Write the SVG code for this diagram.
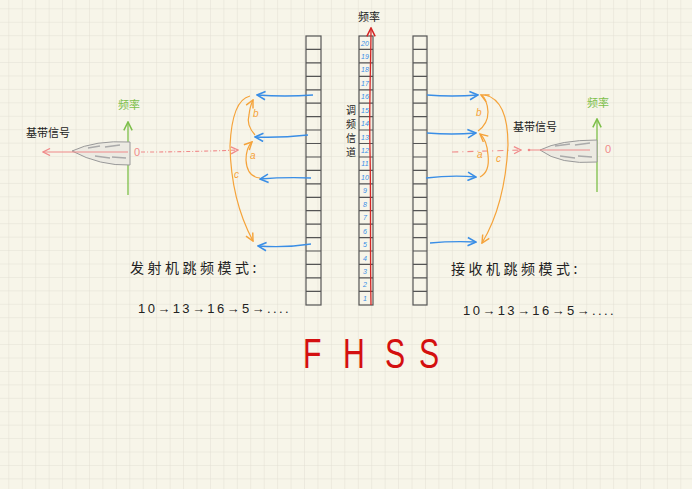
<svg xmlns="http://www.w3.org/2000/svg" width="692" height="489" viewBox="0 0 692 489">
<defs>
<pattern id="grid" x="-4.14" y="-4.13" width="13.44" height="13.43" patternUnits="userSpaceOnUse">
<path d="M13.44 0V13.43M0 13.43H13.44" fill="none" stroke="#e2dfd3" stroke-width="1"/>
</pattern>
<marker id="ab" viewBox="0 0 10 10" refX="9" refY="5" markerWidth="8" markerHeight="8" orient="auto"><path d="M1 1L9 5L1 9" fill="none" stroke="#3a8ee6" stroke-width="1.5"/></marker>
<marker id="ao" viewBox="0 0 10 10" refX="9" refY="5" markerWidth="8" markerHeight="8" orient="auto"><path d="M1 1L9 5L1 9" fill="none" stroke="#f5a33a" stroke-width="1.5"/></marker>
<marker id="ar" viewBox="0 0 10 10" refX="9" refY="5" markerWidth="8" markerHeight="8" orient="auto"><path d="M1 1L9 5L1 9" fill="none" stroke="#f08a8a" stroke-width="1.5"/></marker>
<marker id="ag" viewBox="0 0 10 10" refX="9" refY="5" markerWidth="8" markerHeight="8" orient="auto"><path d="M1 1L9 5L1 9" fill="none" stroke="#7dbf4a" stroke-width="1.5"/></marker>
<marker id="ad" viewBox="0 0 10 10" refX="9" refY="5" markerWidth="8" markerHeight="8" orient="auto"><path d="M1 1L9 5L1 9" fill="none" stroke="#d42525" stroke-width="1.5"/></marker>
</defs>
<style>
.col{fill:none;stroke:#555;stroke-width:1.2}
.blue{fill:none;stroke:#3a8ee6;stroke-width:1.3;marker-end:url(#ab)}
.org{fill:none;stroke:#f5a33a;stroke-width:1.2;marker-end:url(#ao)}
.lbl{font-family:"Noto Sans CJK SC","Liberation Sans",sans-serif;fill:#222}
.num{font-family:"Liberation Sans",sans-serif;font-size:7px;fill:#3a8ee6;text-anchor:middle;font-style:italic}
.ol{font-family:"Liberation Sans",sans-serif;font-size:10px;fill:#f5a33a;font-style:italic}
.lens{fill:#eceae2;stroke:#999;stroke-width:1}
.seq{font-family:"Liberation Sans",sans-serif;font-size:13px;fill:#222;letter-spacing:2.4px}
</style>
<rect width="692" height="489" fill="#f7f5e9"/>
<rect width="692" height="489" fill="url(#grid)"/>

<g id="col-tx">
<rect class="col" x="306" y="36" width="15" height="269"/>
<path class="col" d="M306 49.4H321M306 62.9H321M306 76.3H321M306 89.8H321M306 103.2H321M306 116.6H321M306 130H321M306 143.5H321M306 157H321M306 170.4H321M306 183.8H321M306 197.3H321M306 210.7H321M306 224.1H321M306 237.6H321M306 251H321M306 264.4H321M306 277.9H321M306 291.3H321"/>
</g>
<g id="col-channel">
<rect class="col" x="359" y="36" width="14" height="269"/>
<path class="col" d="M359 49.4H373M359 62.9H373M359 76.3H373M359 89.8H373M359 103.2H373M359 116.6H373M359 130H373M359 143.5H373M359 157H373M359 170.4H373M359 183.8H373M359 197.3H373M359 210.7H373M359 224.1H373M359 237.6H373M359 251H373M359 264.4H373M359 277.9H373M359 291.3H373"/>
<text class="num" x="365" y="45.5">20</text><text class="num" x="365" y="59">19</text><text class="num" x="365" y="72.4">18</text><text class="num" x="365" y="85.8">17</text><text class="num" x="365" y="99.3">16</text><text class="num" x="365" y="112.7">15</text><text class="num" x="365" y="126.1">14</text><text class="num" x="365" y="139.6">13</text><text class="num" x="365" y="153">12</text><text class="num" x="365" y="166.4">11</text><text class="num" x="365" y="179.9">10</text><text class="num" x="365" y="193.3">9</text><text class="num" x="365" y="206.7">8</text><text class="num" x="365" y="220.2">7</text><text class="num" x="365" y="233.6">6</text><text class="num" x="365" y="247">5</text><text class="num" x="365" y="260.5">4</text><text class="num" x="365" y="273.9">3</text><text class="num" x="365" y="287.3">2</text><text class="num" x="365" y="300.8">1</text>
<path d="M371 305C370 250 371 200 370 150C369 100 371 60 371 28" fill="none" stroke="#d42525" stroke-width="1.3" marker-end="url(#ad)"/>
<text class="lbl" x="369" y="21" font-size="11" text-anchor="middle">频率</text>
<text class="lbl" font-size="10" text-anchor="middle"><tspan x="351" y="114">调</tspan><tspan x="351" y="128">频</tspan><tspan x="351" y="142">信</tspan><tspan x="351" y="156">道</tspan></text>
</g>
<g id="col-rx">
<rect class="col" x="413" y="36" width="14" height="269"/>
<path class="col" d="M413 49.4H427M413 62.9H427M413 76.3H427M413 89.8H427M413 103.2H427M413 116.6H427M413 130H427M413 143.5H427M413 157H427M413 170.4H427M413 183.8H427M413 197.3H427M413 210.7H427M413 224.1H427M413 237.6H427M413 251H427M413 264.4H427M413 277.9H427M413 291.3H427"/>
</g>

<g id="tx-signal">
<path d="M128 195V122" fill="none" stroke="#7dbf4a" stroke-width="1.3" marker-end="url(#ag)"/>
<text x="129" y="109" font-size="11" text-anchor="middle" fill="#7dbf4a" font-family="Noto Sans CJK SC,sans-serif">频率</text>
<text class="lbl" x="48" y="137" font-size="11" text-anchor="middle">基带信号</text>
<path class="lens" d="M72 151Q95 140 130 142V165Q100 166 72 151Z"/>
<path d="M88 148L100 146M105 147L120 145M95 156L110 158M112 157L126 158" stroke="#aaa" stroke-width="1.5"/>
<path d="M128 152H43" fill="none" stroke="#f08a8a" stroke-width="1.1" marker-end="url(#ar)"/>
<text x="137" y="156" font-size="11" text-anchor="middle" fill="#f08a8a" font-family="Liberation Sans,sans-serif">0</text>
</g>
<g id="rx-signal">
<path d="M597 192V119" fill="none" stroke="#7dbf4a" stroke-width="1.3" marker-end="url(#ag)"/>
<text x="598" y="107" font-size="11" text-anchor="middle" fill="#7dbf4a" font-family="Noto Sans CJK SC,sans-serif">频率</text>
<text class="lbl" x="535" y="131" font-size="11" text-anchor="middle">基带信号</text>
<path class="lens" d="M540 150Q560 140 597 140V162Q560 165 540 150Z"/>
<path d="M555 146L570 144M575 145L590 143M560 156L575 158M578 156L592 157" stroke="#aaa" stroke-width="1.5"/>
<path d="M529 150H590" fill="none" stroke="#f08a8a" stroke-width="1.1"/>
<circle cx="529" cy="150" r="1.3" fill="#f08a8a"/>
<text x="608" y="153" font-size="11" text-anchor="middle" fill="#f08a8a" font-family="Liberation Sans,sans-serif">0</text>
</g>

<g id="connectors">
<path d="M141 152Q190 152 238 150" fill="none" stroke="#f08a8a" stroke-width="1.1" stroke-dasharray="4 2 1 2" marker-end="url(#ar)"/>
<path d="M452 152Q490 151 521 150" fill="none" stroke="#f08a8a" stroke-width="1.1" stroke-dasharray="6 4 1 4" marker-end="url(#ar)"/>
<path class="blue" d="M313 95Q285 97 257 95"/>
<path class="blue" d="M308 135Q280 138 255 137"/>
<path class="blue" d="M311 178Q285 177 260 179"/>
<path class="blue" d="M311 244Q285 248 258 246"/>
<path class="blue" d="M427 95Q452 97 478 95"/>
<path class="blue" d="M427 133Q452 135 476 133"/>
<path class="blue" d="M426 178Q452 175 476 177"/>
<path class="blue" d="M430 243Q452 241 476 242"/>
<path class="org" d="M255 135Q246 125 249 115Q250 106 253 100"/>
<path class="org" d="M260 178Q247 177 246 160Q246 148 252 142"/>
<path class="org" d="M250 96Q232 100 230 146Q231 200 253 241"/>
<path class="org" d="M478 131Q488 124 488 112Q487 98 481 95"/>
<path class="org" d="M480 177Q490 172 488 155Q487 140 480 134"/>
<path class="org" d="M485 95Q508 100 508 145Q505 205 482 243"/>
<text class="ol" x="253" y="117">b</text><text class="ol" x="250" y="159">a</text><text class="ol" x="234" y="178">c</text>
<text class="ol" x="476" y="116">b</text><text class="ol" x="477" y="158">a</text><text class="ol" x="496" y="162">c</text>
</g>

<g id="tx-pattern">
<text class="lbl" x="130" y="273" font-size="14" letter-spacing="3.5">发射机跳频模式:</text>
<text class="seq" x="138" y="313">10→13→16→5→....</text>
</g>
<g id="rx-pattern">
<text class="lbl" x="451" y="274" font-size="14" letter-spacing="3.5">接收机跳频模式:</text>
<text class="seq" x="463" y="315">10→13→16→5→....</text>
</g>
<g id="title">
<text font-size="42" fill="#d40f0f" font-family="Liberation Sans,sans-serif" transform="scale(0.72,1)"><tspan x="420.8" y="368">F</tspan><tspan x="476.4" y="368">H</tspan><tspan x="534.7" y="368">S</tspan><tspan x="582" y="368">S</tspan></text>
</g>
</svg>
